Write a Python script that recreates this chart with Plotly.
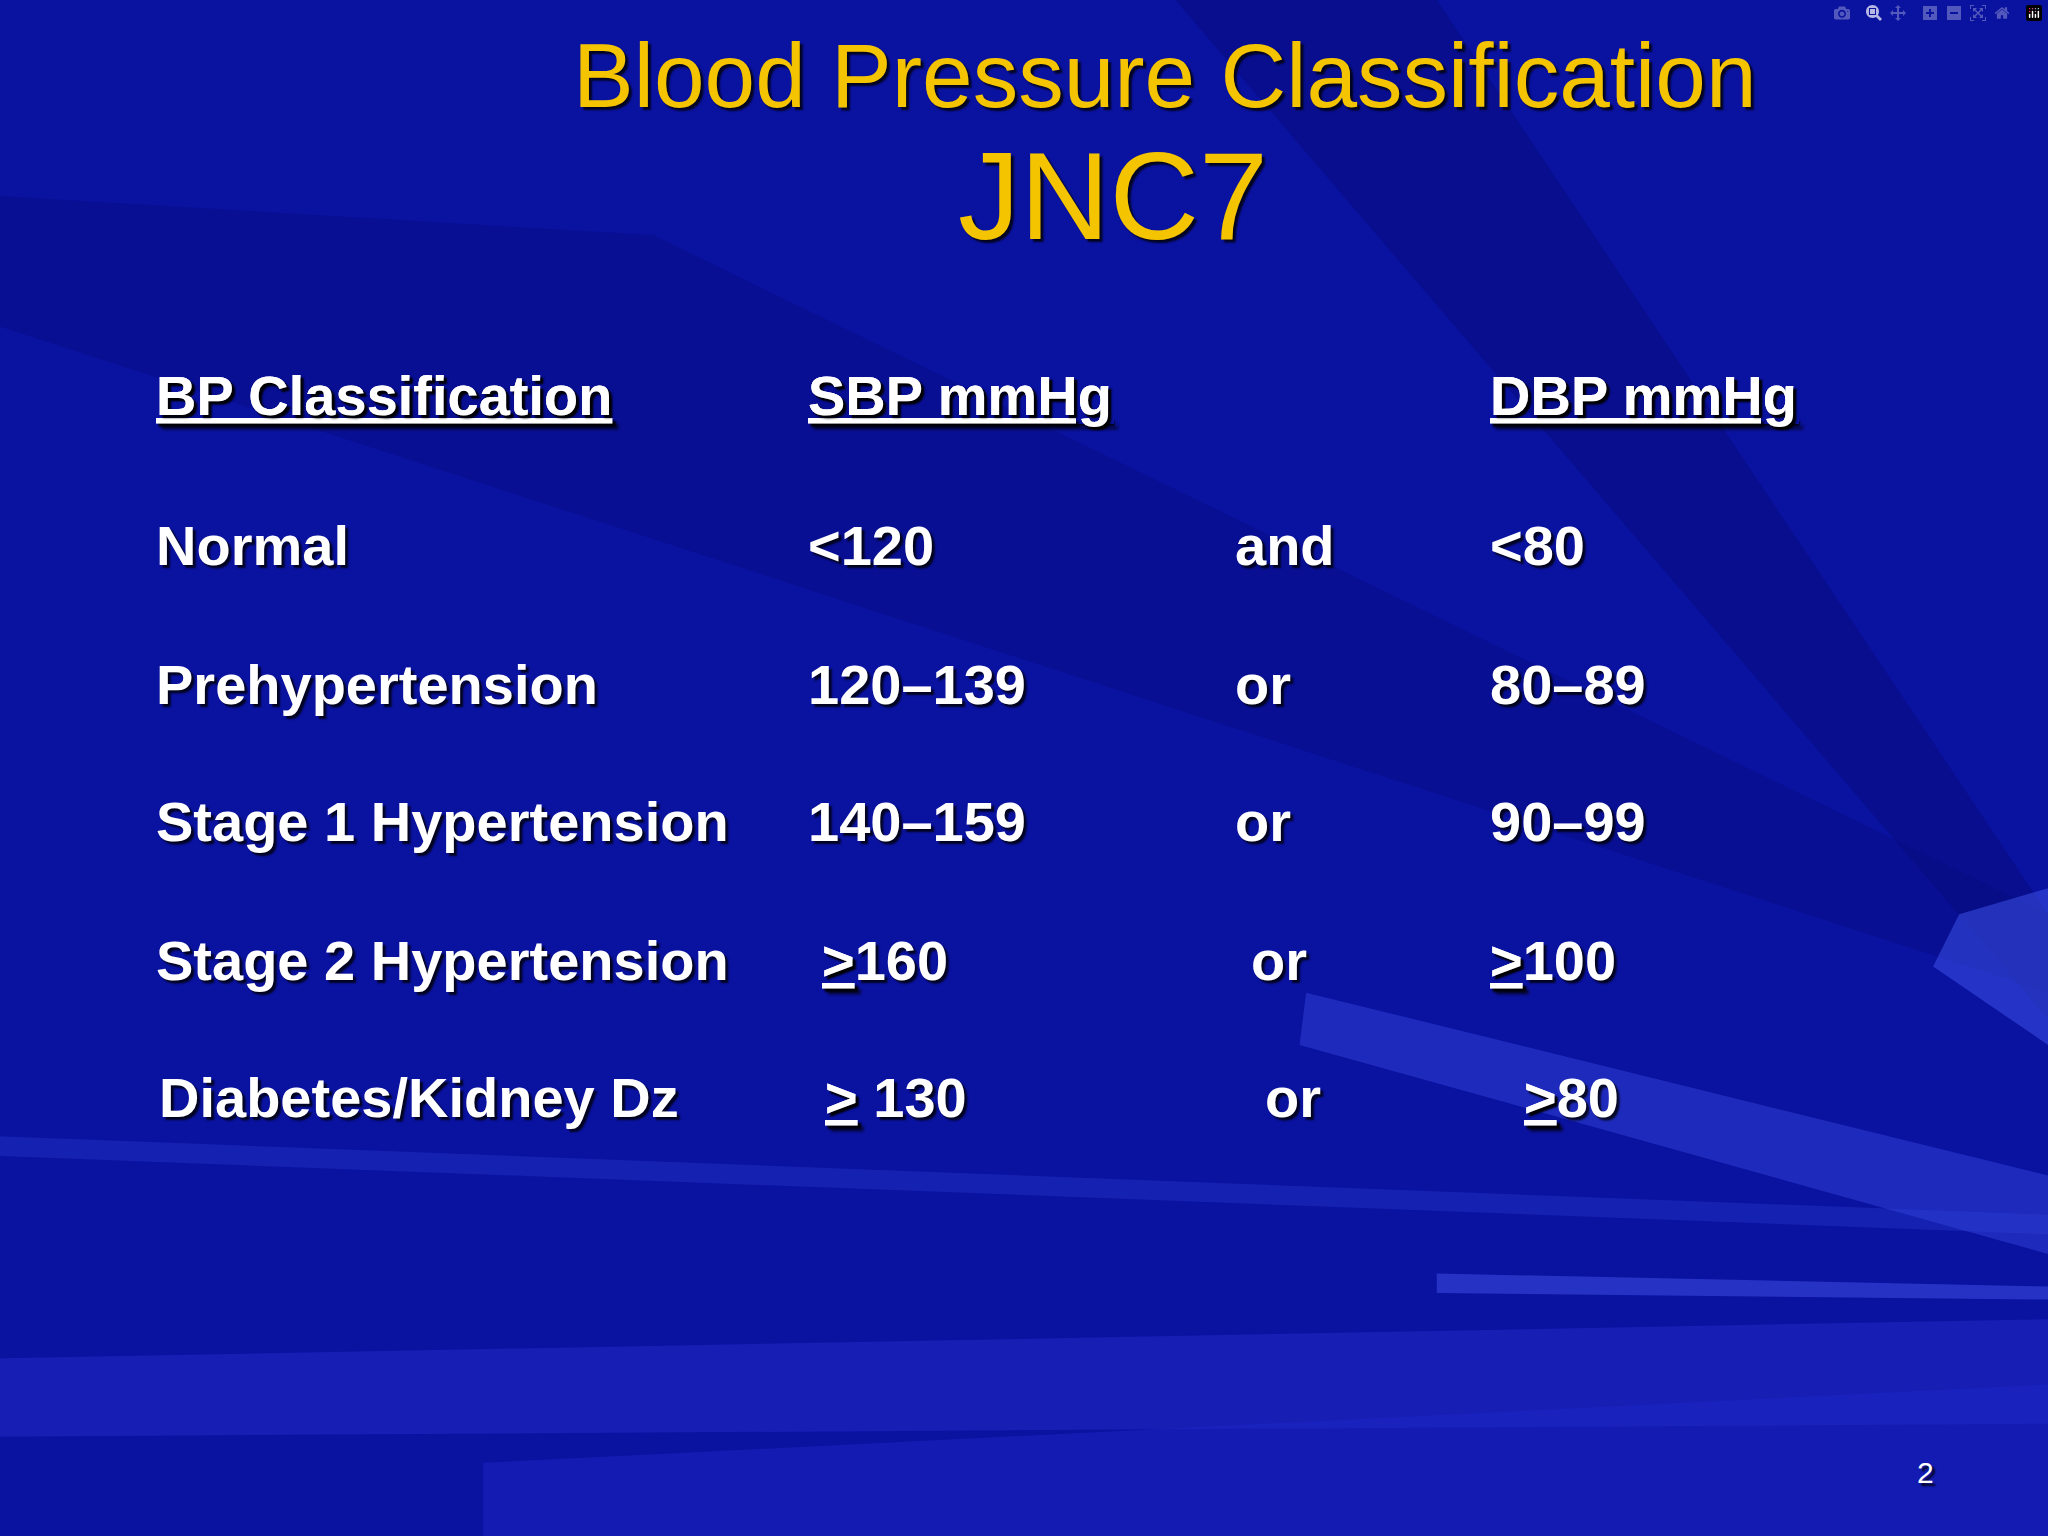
import plotly.graph_objects as go

title_line1 = "Blood Pressure Classification"
title_line2 = "JNC7"
headers = ["BP Classification", "SBP mmHg", "DBP mmHg"]
classes = ["Normal", "Prehypertension", "Stage 1 Hypertension", "Stage 2 Hypertension", "Diabetes/Kidney Dz"]
sbp = ["&lt;120", "120–139", "140–159", "<u>&gt;</u>160", "<u>&gt;</u> 130"]
conj = ["and", "or", "or", "or", "or"]
dbp = ["&lt;80", "80–89", "90–99", "<u>&gt;</u>100", "<u>&gt;</u>80"]
page_no = "2"

W, H = 1568, 1176
row_y = [418, 524, 629, 735, 840]
col_x = [[118, 617, 944, 1139]] * 3 + [[118, 628, 956, 1139], [120, 630, 967, 1165]]

fig = go.Figure()
font = "Liberation Sans, Arial, sans-serif"
shadow = "3px 3px 2px rgba(0,0,0,0.8)"
ann = []
def add(text, x, y, size, color="white", xanchor="left", bold=False):
    ann.append(dict(text=f"<b>{text}</b>" if bold else text, x=x / W, y=1 - y / H, xref="paper", yref="paper",
                    xanchor=xanchor, yanchor="middle", showarrow=False,
                    font=dict(family=font, size=size, color=color, shadow=shadow)))

add(title_line1, 892, 58, 91, "#f5c400", "center")
add(title_line2, 852, 150, 124, "#f5c400", "center")
for h, x in zip(headers, [118, 617, 1139]):
    add(f"<u>{h}</u>", x, 303, 56, bold=True)
for i in range(len(classes)):
    xs = col_x[i]
    for t, x in zip([classes[i], sbp[i], conj[i], dbp[i]], xs):
        add(t, x, row_y[i], 56, bold=True)
add(page_no, 1466, 1127, 30)

shapes = []
def poly(pts, color):
    p = "M " + " L ".join(f"{x/W},{1-y/H}" for x, y in pts) + " Z"
    shapes.append(dict(type="path", path=p, xref="paper", yref="paper", fillcolor=color, line=dict(width=0), layer="below"))

poly([(0, 1040), (1568, 1010), (1568, 1090), (0, 1100)], "rgba(40,50,210,0.4)")
poly([(370, 1120), (1568, 1060), (1568, 1176), (370, 1176)], "rgba(30,40,200,0.45)")
poly([(1000, 760), (1568, 900), (1568, 960), (995, 800)], "rgba(60,80,230,0.4)")
poly([(1100, 975), (1568, 985), (1568, 995), (1100, 990)], "rgba(70,90,240,0.45)")
poly([(0, 870), (1568, 930), (1568, 945), (0, 885)], "rgba(50,70,220,0.3)")
poly([(1100, 0), (1568, 700), (1568, 780), (900, 0)], "rgba(5,10,110,0.35)")
poly([(0, 150), (500, 180), (1568, 700), (1568, 760), (0, 250)], "rgba(5,10,120,0.3)")
poly([(1500, 700), (1568, 680), (1568, 800), (1480, 740)], "rgba(60,80,230,0.55)")

fig.update_layout(width=2048, height=1536, margin=dict(l=0, r=0, t=0, b=0),
                  paper_bgcolor="#0a12a0", plot_bgcolor="rgba(0,0,0,0)",
                  xaxis=dict(visible=False), yaxis=dict(visible=False),
                  annotations=ann, shapes=shapes)
fig.write_html("out.html", post_script="document.body.style.margin='0';document.body.style.overflow='hidden';")
